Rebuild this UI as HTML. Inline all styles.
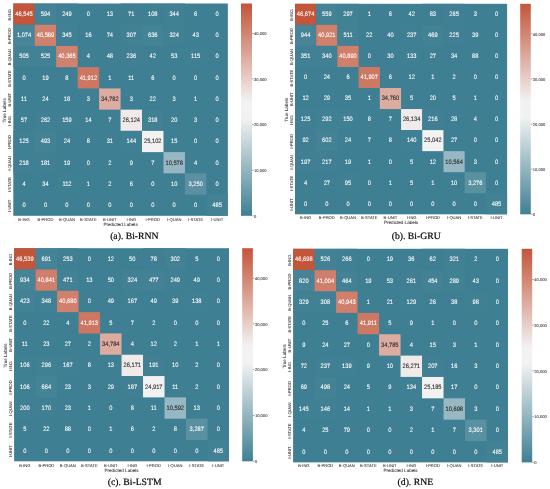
<!DOCTYPE html>
<html lang="en"><head><meta charset="utf-8"><title>Confusion matrices</title>
<style>
html,body{margin:0;padding:0;background:#fff;}
body{width:550px;height:489px;overflow:hidden;}
svg{display:block;font-family:"Liberation Sans",Arial,sans-serif;text-rendering:geometricPrecision;}
svg .cap{font-family:"Liberation Serif","Times New Roman",serif;}
</style></head><body>
<svg width="550" height="489" viewBox="0 0 550 489">
<defs><linearGradient id="cb" x1="0" y1="1" x2="0" y2="0"><stop offset="0" stop-color="#3f7f93"/><stop offset="0.4609" stop-color="#f2f2f2"/><stop offset="0.5391" stop-color="#f2f2f2"/><stop offset="1" stop-color="#c3553a"/></linearGradient></defs>
<rect width="550" height="489" fill="#ffffff"/>
<g class="panel">
<rect x="13.30" y="3.50" width="214.55" height="212.30" fill="#3f7f93"/>
<rect x="13.30" y="3.50" width="21.45" height="21.23" fill="#c3553a"/>
<rect x="34.75" y="3.50" width="21.45" height="21.23" fill="#448296"/>
<rect x="56.21" y="3.50" width="21.45" height="21.23" fill="#418094"/>
<rect x="120.57" y="3.50" width="21.45" height="21.23" fill="#407f93"/>
<rect x="142.03" y="3.50" width="21.45" height="21.23" fill="#408093"/>
<rect x="163.49" y="3.50" width="21.45" height="21.23" fill="#428195"/>
<rect x="13.30" y="24.73" width="21.45" height="21.23" fill="#488598"/>
<rect x="34.75" y="24.73" width="21.45" height="21.23" fill="#d0816d"/>
<rect x="56.21" y="24.73" width="21.45" height="21.23" fill="#428195"/>
<rect x="99.12" y="24.73" width="21.45" height="21.23" fill="#407f93"/>
<rect x="120.57" y="24.73" width="21.45" height="21.23" fill="#428194"/>
<rect x="142.03" y="24.73" width="21.45" height="21.23" fill="#448296"/>
<rect x="163.49" y="24.73" width="21.45" height="21.23" fill="#428194"/>
<rect x="13.30" y="45.96" width="21.45" height="21.23" fill="#438295"/>
<rect x="34.75" y="45.96" width="21.45" height="21.23" fill="#438295"/>
<rect x="56.21" y="45.96" width="21.45" height="21.23" fill="#d1826f"/>
<rect x="120.57" y="45.96" width="21.45" height="21.23" fill="#418094"/>
<rect x="184.94" y="45.96" width="21.45" height="21.23" fill="#408094"/>
<rect x="77.66" y="67.19" width="21.45" height="21.23" fill="#cd7762"/>
<rect x="99.12" y="88.42" width="21.45" height="21.23" fill="#ddab9f"/>
<rect x="34.75" y="109.65" width="21.45" height="21.23" fill="#418094"/>
<rect x="56.21" y="109.65" width="21.45" height="21.23" fill="#408094"/>
<rect x="120.57" y="109.65" width="21.45" height="21.23" fill="#f0eae9"/>
<rect x="142.03" y="109.65" width="21.45" height="21.23" fill="#428194"/>
<rect x="13.30" y="130.88" width="21.45" height="21.23" fill="#408094"/>
<rect x="34.75" y="130.88" width="21.45" height="21.23" fill="#438295"/>
<rect x="120.57" y="130.88" width="21.45" height="21.23" fill="#408094"/>
<rect x="142.03" y="130.88" width="21.45" height="21.23" fill="#f2f2f2"/>
<rect x="13.30" y="152.11" width="21.45" height="21.23" fill="#418094"/>
<rect x="34.75" y="152.11" width="21.45" height="21.23" fill="#418094"/>
<rect x="163.49" y="152.11" width="21.45" height="21.23" fill="#97b8c2"/>
<rect x="56.21" y="173.34" width="21.45" height="21.23" fill="#408093"/>
<rect x="184.94" y="173.34" width="21.45" height="21.23" fill="#5a90a1"/>
<rect x="206.39" y="194.57" width="21.45" height="21.23" fill="#438295"/>
<g class="ann" font-size="5.90" text-anchor="middle" stroke-width="0.08">
<text transform="translate(24.03 15.96) scale(0.970 1.070)" fill="#ffffff" stroke="#ffffff">46,545</text>
<text transform="translate(45.48 15.96) scale(0.970 1.070)" fill="#ffffff" stroke="#ffffff">594</text>
<text transform="translate(66.94 15.96) scale(0.970 1.070)" fill="#ffffff" stroke="#ffffff">249</text>
<text transform="translate(88.39 15.96) scale(0.970 1.070)" fill="#ffffff" stroke="#ffffff">0</text>
<text transform="translate(109.85 15.96) scale(0.970 1.070)" fill="#ffffff" stroke="#ffffff">13</text>
<text transform="translate(131.30 15.96) scale(0.970 1.070)" fill="#ffffff" stroke="#ffffff">71</text>
<text transform="translate(152.76 15.96) scale(0.970 1.070)" fill="#ffffff" stroke="#ffffff">108</text>
<text transform="translate(174.21 15.96) scale(0.970 1.070)" fill="#ffffff" stroke="#ffffff">344</text>
<text transform="translate(195.67 15.96) scale(0.970 1.070)" fill="#ffffff" stroke="#ffffff">6</text>
<text transform="translate(217.12 15.96) scale(0.970 1.070)" fill="#ffffff" stroke="#ffffff">0</text>
<text transform="translate(24.03 37.20) scale(0.970 1.070)" fill="#ffffff" stroke="#ffffff">1,074</text>
<text transform="translate(45.48 37.20) scale(0.970 1.070)" fill="#ffffff" stroke="#ffffff">40,589</text>
<text transform="translate(66.94 37.20) scale(0.970 1.070)" fill="#ffffff" stroke="#ffffff">345</text>
<text transform="translate(88.39 37.20) scale(0.970 1.070)" fill="#ffffff" stroke="#ffffff">16</text>
<text transform="translate(109.85 37.20) scale(0.970 1.070)" fill="#ffffff" stroke="#ffffff">74</text>
<text transform="translate(131.30 37.20) scale(0.970 1.070)" fill="#ffffff" stroke="#ffffff">307</text>
<text transform="translate(152.76 37.20) scale(0.970 1.070)" fill="#ffffff" stroke="#ffffff">636</text>
<text transform="translate(174.21 37.20) scale(0.970 1.070)" fill="#ffffff" stroke="#ffffff">324</text>
<text transform="translate(195.67 37.20) scale(0.970 1.070)" fill="#ffffff" stroke="#ffffff">43</text>
<text transform="translate(217.12 37.20) scale(0.970 1.070)" fill="#ffffff" stroke="#ffffff">0</text>
<text transform="translate(24.03 58.43) scale(0.970 1.070)" fill="#ffffff" stroke="#ffffff">505</text>
<text transform="translate(45.48 58.43) scale(0.970 1.070)" fill="#ffffff" stroke="#ffffff">525</text>
<text transform="translate(66.94 58.43) scale(0.970 1.070)" fill="#ffffff" stroke="#ffffff">40,365</text>
<text transform="translate(88.39 58.43) scale(0.970 1.070)" fill="#ffffff" stroke="#ffffff">4</text>
<text transform="translate(109.85 58.43) scale(0.970 1.070)" fill="#ffffff" stroke="#ffffff">48</text>
<text transform="translate(131.30 58.43) scale(0.970 1.070)" fill="#ffffff" stroke="#ffffff">236</text>
<text transform="translate(152.76 58.43) scale(0.970 1.070)" fill="#ffffff" stroke="#ffffff">42</text>
<text transform="translate(174.21 58.43) scale(0.970 1.070)" fill="#ffffff" stroke="#ffffff">53</text>
<text transform="translate(195.67 58.43) scale(0.970 1.070)" fill="#ffffff" stroke="#ffffff">115</text>
<text transform="translate(217.12 58.43) scale(0.970 1.070)" fill="#ffffff" stroke="#ffffff">0</text>
<text transform="translate(24.03 79.66) scale(0.970 1.070)" fill="#ffffff" stroke="#ffffff">0</text>
<text transform="translate(45.48 79.66) scale(0.970 1.070)" fill="#ffffff" stroke="#ffffff">19</text>
<text transform="translate(66.94 79.66) scale(0.970 1.070)" fill="#ffffff" stroke="#ffffff">8</text>
<text transform="translate(88.39 79.66) scale(0.970 1.070)" fill="#ffffff" stroke="#ffffff">41,912</text>
<text transform="translate(109.85 79.66) scale(0.970 1.070)" fill="#ffffff" stroke="#ffffff">1</text>
<text transform="translate(131.30 79.66) scale(0.970 1.070)" fill="#ffffff" stroke="#ffffff">11</text>
<text transform="translate(152.76 79.66) scale(0.970 1.070)" fill="#ffffff" stroke="#ffffff">6</text>
<text transform="translate(174.21 79.66) scale(0.970 1.070)" fill="#ffffff" stroke="#ffffff">0</text>
<text transform="translate(195.67 79.66) scale(0.970 1.070)" fill="#ffffff" stroke="#ffffff">0</text>
<text transform="translate(217.12 79.66) scale(0.970 1.070)" fill="#ffffff" stroke="#ffffff">0</text>
<text transform="translate(24.03 100.88) scale(0.970 1.070)" fill="#ffffff" stroke="#ffffff">11</text>
<text transform="translate(45.48 100.88) scale(0.970 1.070)" fill="#ffffff" stroke="#ffffff">24</text>
<text transform="translate(66.94 100.88) scale(0.970 1.070)" fill="#ffffff" stroke="#ffffff">18</text>
<text transform="translate(88.39 100.88) scale(0.970 1.070)" fill="#ffffff" stroke="#ffffff">3</text>
<text transform="translate(109.85 100.88) scale(0.970 1.070)" fill="#262626" stroke="#262626">34,782</text>
<text transform="translate(131.30 100.88) scale(0.970 1.070)" fill="#ffffff" stroke="#ffffff">3</text>
<text transform="translate(152.76 100.88) scale(0.970 1.070)" fill="#ffffff" stroke="#ffffff">22</text>
<text transform="translate(174.21 100.88) scale(0.970 1.070)" fill="#ffffff" stroke="#ffffff">3</text>
<text transform="translate(195.67 100.88) scale(0.970 1.070)" fill="#ffffff" stroke="#ffffff">1</text>
<text transform="translate(217.12 100.88) scale(0.970 1.070)" fill="#ffffff" stroke="#ffffff">0</text>
<text transform="translate(24.03 122.11) scale(0.970 1.070)" fill="#ffffff" stroke="#ffffff">57</text>
<text transform="translate(45.48 122.11) scale(0.970 1.070)" fill="#ffffff" stroke="#ffffff">262</text>
<text transform="translate(66.94 122.11) scale(0.970 1.070)" fill="#ffffff" stroke="#ffffff">159</text>
<text transform="translate(88.39 122.11) scale(0.970 1.070)" fill="#ffffff" stroke="#ffffff">14</text>
<text transform="translate(109.85 122.11) scale(0.970 1.070)" fill="#ffffff" stroke="#ffffff">7</text>
<text transform="translate(131.30 122.11) scale(0.970 1.070)" fill="#262626" stroke="#262626">26,124</text>
<text transform="translate(152.76 122.11) scale(0.970 1.070)" fill="#ffffff" stroke="#ffffff">318</text>
<text transform="translate(174.21 122.11) scale(0.970 1.070)" fill="#ffffff" stroke="#ffffff">20</text>
<text transform="translate(195.67 122.11) scale(0.970 1.070)" fill="#ffffff" stroke="#ffffff">3</text>
<text transform="translate(217.12 122.11) scale(0.970 1.070)" fill="#ffffff" stroke="#ffffff">0</text>
<text transform="translate(24.03 143.34) scale(0.970 1.070)" fill="#ffffff" stroke="#ffffff">125</text>
<text transform="translate(45.48 143.34) scale(0.970 1.070)" fill="#ffffff" stroke="#ffffff">493</text>
<text transform="translate(66.94 143.34) scale(0.970 1.070)" fill="#ffffff" stroke="#ffffff">24</text>
<text transform="translate(88.39 143.34) scale(0.970 1.070)" fill="#ffffff" stroke="#ffffff">8</text>
<text transform="translate(109.85 143.34) scale(0.970 1.070)" fill="#ffffff" stroke="#ffffff">31</text>
<text transform="translate(131.30 143.34) scale(0.970 1.070)" fill="#ffffff" stroke="#ffffff">144</text>
<text transform="translate(152.76 143.34) scale(0.970 1.070)" fill="#262626" stroke="#262626">25,102</text>
<text transform="translate(174.21 143.34) scale(0.970 1.070)" fill="#ffffff" stroke="#ffffff">15</text>
<text transform="translate(195.67 143.34) scale(0.970 1.070)" fill="#ffffff" stroke="#ffffff">0</text>
<text transform="translate(217.12 143.34) scale(0.970 1.070)" fill="#ffffff" stroke="#ffffff">0</text>
<text transform="translate(24.03 164.57) scale(0.970 1.070)" fill="#ffffff" stroke="#ffffff">218</text>
<text transform="translate(45.48 164.57) scale(0.970 1.070)" fill="#ffffff" stroke="#ffffff">181</text>
<text transform="translate(66.94 164.57) scale(0.970 1.070)" fill="#ffffff" stroke="#ffffff">19</text>
<text transform="translate(88.39 164.57) scale(0.970 1.070)" fill="#ffffff" stroke="#ffffff">0</text>
<text transform="translate(109.85 164.57) scale(0.970 1.070)" fill="#ffffff" stroke="#ffffff">2</text>
<text transform="translate(131.30 164.57) scale(0.970 1.070)" fill="#ffffff" stroke="#ffffff">9</text>
<text transform="translate(152.76 164.57) scale(0.970 1.070)" fill="#ffffff" stroke="#ffffff">7</text>
<text transform="translate(174.21 164.57) scale(0.970 1.070)" fill="#262626" stroke="#262626">10,578</text>
<text transform="translate(195.67 164.57) scale(0.970 1.070)" fill="#ffffff" stroke="#ffffff">4</text>
<text transform="translate(217.12 164.57) scale(0.970 1.070)" fill="#ffffff" stroke="#ffffff">0</text>
<text transform="translate(24.03 185.81) scale(0.970 1.070)" fill="#ffffff" stroke="#ffffff">4</text>
<text transform="translate(45.48 185.81) scale(0.970 1.070)" fill="#ffffff" stroke="#ffffff">34</text>
<text transform="translate(66.94 185.81) scale(0.970 1.070)" fill="#ffffff" stroke="#ffffff">112</text>
<text transform="translate(88.39 185.81) scale(0.970 1.070)" fill="#ffffff" stroke="#ffffff">1</text>
<text transform="translate(109.85 185.81) scale(0.970 1.070)" fill="#ffffff" stroke="#ffffff">2</text>
<text transform="translate(131.30 185.81) scale(0.970 1.070)" fill="#ffffff" stroke="#ffffff">6</text>
<text transform="translate(152.76 185.81) scale(0.970 1.070)" fill="#ffffff" stroke="#ffffff">0</text>
<text transform="translate(174.21 185.81) scale(0.970 1.070)" fill="#ffffff" stroke="#ffffff">10</text>
<text transform="translate(195.67 185.81) scale(0.970 1.070)" fill="#ffffff" stroke="#ffffff">3,250</text>
<text transform="translate(217.12 185.81) scale(0.970 1.070)" fill="#ffffff" stroke="#ffffff">0</text>
<text transform="translate(24.03 207.03) scale(0.970 1.070)" fill="#ffffff" stroke="#ffffff">0</text>
<text transform="translate(45.48 207.03) scale(0.970 1.070)" fill="#ffffff" stroke="#ffffff">0</text>
<text transform="translate(66.94 207.03) scale(0.970 1.070)" fill="#ffffff" stroke="#ffffff">0</text>
<text transform="translate(88.39 207.03) scale(0.970 1.070)" fill="#ffffff" stroke="#ffffff">0</text>
<text transform="translate(109.85 207.03) scale(0.970 1.070)" fill="#ffffff" stroke="#ffffff">0</text>
<text transform="translate(131.30 207.03) scale(0.970 1.070)" fill="#ffffff" stroke="#ffffff">0</text>
<text transform="translate(152.76 207.03) scale(0.970 1.070)" fill="#ffffff" stroke="#ffffff">0</text>
<text transform="translate(174.21 207.03) scale(0.970 1.070)" fill="#ffffff" stroke="#ffffff">0</text>
<text transform="translate(195.67 207.03) scale(0.970 1.070)" fill="#ffffff" stroke="#ffffff">0</text>
<text transform="translate(217.12 207.03) scale(0.970 1.070)" fill="#ffffff" stroke="#ffffff">485</text>
</g>
<g class="tick" font-size="4.10" text-anchor="middle" fill="#262626" stroke="#262626" stroke-width="0.04">
<text x="24.03" y="221.00">B-ING</text>
<text x="45.48" y="221.00">B-PROD</text>
<text x="66.94" y="221.00">B-QUAN</text>
<text x="88.39" y="221.00">B-STATE</text>
<text x="109.85" y="221.00">B-UNIT</text>
<text x="131.30" y="221.00">I-ING</text>
<text x="152.76" y="221.00">I-PROD</text>
<text x="174.21" y="221.00">I-QUAN</text>
<text x="195.67" y="221.00">I-STATE</text>
<text x="217.12" y="221.00">I-UNIT</text>
<text transform="translate(10.80 14.81) rotate(-90)">B-ING</text>
<text transform="translate(10.80 36.05) rotate(-90)">B-PROD</text>
<text transform="translate(10.80 57.28) rotate(-90)">B-QUAN</text>
<text transform="translate(10.80 78.51) rotate(-90)">B-STATE</text>
<text transform="translate(10.80 99.73) rotate(-90)">B-UNIT</text>
<text transform="translate(10.80 120.97) rotate(-90)">I-ING</text>
<text transform="translate(10.80 142.19) rotate(-90)">I-PROD</text>
<text transform="translate(10.80 163.42) rotate(-90)">I-QUAN</text>
<text transform="translate(10.80 184.66) rotate(-90)">I-STATE</text>
<text transform="translate(10.80 205.88) rotate(-90)">I-UNIT</text>
</g>
<g class="axl" font-size="4.60" text-anchor="middle" fill="#262626" stroke="#262626" stroke-width="0.04">
<text x="120.58" y="226.00">Predicted Labels</text>
<text transform="translate(5.90 110.35) rotate(-90)">True Labels</text>
</g>
<rect x="241.00" y="3.50" width="11.00" height="212.30" fill="url(#cb)"/>
<g class="cbt" font-size="4.10" fill="#262626" stroke="#262626" stroke-width="0.04">
<line x1="252.00" x2="253.70" y1="215.80" y2="215.80" stroke-width="0.4"/>
<text x="254.00" y="217.57">0</text>
<line x1="252.00" x2="253.70" y1="170.19" y2="170.19" stroke-width="0.4"/>
<text x="254.00" y="171.96">10,000</text>
<line x1="252.00" x2="253.70" y1="124.58" y2="124.58" stroke-width="0.4"/>
<text x="254.00" y="126.34">20,000</text>
<line x1="252.00" x2="253.70" y1="78.96" y2="78.96" stroke-width="0.4"/>
<text x="254.00" y="80.73">30,000</text>
<line x1="252.00" x2="253.70" y1="33.35" y2="33.35" stroke-width="0.4"/>
<text x="254.00" y="35.12">40,000</text>
</g>
<text class="cap" x="134.35" y="239.00" font-size="9.70" text-anchor="middle" fill="#000" stroke="#000" stroke-width="0.2">(a). Bi-RNN</text>
</g>
<g class="panel">
<rect x="295.00" y="3.80" width="212.10" height="210.50" fill="#3f7f93"/>
<rect x="295.00" y="3.80" width="21.21" height="21.05" fill="#c3553a"/>
<rect x="316.21" y="3.80" width="21.21" height="21.05" fill="#448295"/>
<rect x="337.42" y="3.80" width="21.21" height="21.05" fill="#418194"/>
<rect x="422.26" y="3.80" width="21.21" height="21.05" fill="#407f93"/>
<rect x="443.47" y="3.80" width="21.21" height="21.05" fill="#418094"/>
<rect x="295.00" y="24.85" width="21.21" height="21.05" fill="#478497"/>
<rect x="316.21" y="24.85" width="21.21" height="21.05" fill="#d07f6b"/>
<rect x="337.42" y="24.85" width="21.21" height="21.05" fill="#438295"/>
<rect x="401.05" y="24.85" width="21.21" height="21.05" fill="#418094"/>
<rect x="422.26" y="24.85" width="21.21" height="21.05" fill="#438295"/>
<rect x="443.47" y="24.85" width="21.21" height="21.05" fill="#418094"/>
<rect x="295.00" y="45.90" width="21.21" height="21.05" fill="#428195"/>
<rect x="316.21" y="45.90" width="21.21" height="21.05" fill="#428195"/>
<rect x="337.42" y="45.90" width="21.21" height="21.05" fill="#d07f6b"/>
<rect x="401.05" y="45.90" width="21.21" height="21.05" fill="#408094"/>
<rect x="464.68" y="45.90" width="21.21" height="21.05" fill="#407f93"/>
<rect x="358.63" y="66.95" width="21.21" height="21.05" fill="#cd7863"/>
<rect x="379.84" y="88.00" width="21.21" height="21.05" fill="#ddaca0"/>
<rect x="295.00" y="109.05" width="21.21" height="21.05" fill="#408094"/>
<rect x="316.21" y="109.05" width="21.21" height="21.05" fill="#418194"/>
<rect x="337.42" y="109.05" width="21.21" height="21.05" fill="#408094"/>
<rect x="401.05" y="109.05" width="21.21" height="21.05" fill="#f0ebea"/>
<rect x="422.26" y="109.05" width="21.21" height="21.05" fill="#418094"/>
<rect x="295.00" y="130.10" width="21.21" height="21.05" fill="#407f93"/>
<rect x="316.21" y="130.10" width="21.21" height="21.05" fill="#448296"/>
<rect x="401.05" y="130.10" width="21.21" height="21.05" fill="#408094"/>
<rect x="422.26" y="130.10" width="21.21" height="21.05" fill="#f2f2f2"/>
<rect x="295.00" y="151.15" width="21.21" height="21.05" fill="#418094"/>
<rect x="316.21" y="151.15" width="21.21" height="21.05" fill="#418094"/>
<rect x="443.47" y="151.15" width="21.21" height="21.05" fill="#97b7c2"/>
<rect x="337.42" y="172.20" width="21.21" height="21.05" fill="#408093"/>
<rect x="464.68" y="172.20" width="21.21" height="21.05" fill="#5a91a1"/>
<rect x="485.89" y="193.25" width="21.21" height="21.05" fill="#438295"/>
<g class="ann" font-size="5.90" text-anchor="middle" stroke-width="0.08">
<text transform="translate(305.61 16.18) scale(0.970 1.070)" fill="#ffffff" stroke="#ffffff">46,674</text>
<text transform="translate(326.81 16.18) scale(0.970 1.070)" fill="#ffffff" stroke="#ffffff">559</text>
<text transform="translate(348.02 16.18) scale(0.970 1.070)" fill="#ffffff" stroke="#ffffff">297</text>
<text transform="translate(369.24 16.18) scale(0.970 1.070)" fill="#ffffff" stroke="#ffffff">1</text>
<text transform="translate(390.44 16.18) scale(0.970 1.070)" fill="#ffffff" stroke="#ffffff">6</text>
<text transform="translate(411.65 16.18) scale(0.970 1.070)" fill="#ffffff" stroke="#ffffff">42</text>
<text transform="translate(432.87 16.18) scale(0.970 1.070)" fill="#ffffff" stroke="#ffffff">83</text>
<text transform="translate(454.08 16.18) scale(0.970 1.070)" fill="#ffffff" stroke="#ffffff">265</text>
<text transform="translate(475.28 16.18) scale(0.970 1.070)" fill="#ffffff" stroke="#ffffff">3</text>
<text transform="translate(496.50 16.18) scale(0.970 1.070)" fill="#ffffff" stroke="#ffffff">0</text>
<text transform="translate(305.61 37.23) scale(0.970 1.070)" fill="#ffffff" stroke="#ffffff">944</text>
<text transform="translate(326.81 37.23) scale(0.970 1.070)" fill="#ffffff" stroke="#ffffff">40,921</text>
<text transform="translate(348.02 37.23) scale(0.970 1.070)" fill="#ffffff" stroke="#ffffff">511</text>
<text transform="translate(369.24 37.23) scale(0.970 1.070)" fill="#ffffff" stroke="#ffffff">22</text>
<text transform="translate(390.44 37.23) scale(0.970 1.070)" fill="#ffffff" stroke="#ffffff">40</text>
<text transform="translate(411.65 37.23) scale(0.970 1.070)" fill="#ffffff" stroke="#ffffff">237</text>
<text transform="translate(432.87 37.23) scale(0.970 1.070)" fill="#ffffff" stroke="#ffffff">469</text>
<text transform="translate(454.08 37.23) scale(0.970 1.070)" fill="#ffffff" stroke="#ffffff">225</text>
<text transform="translate(475.28 37.23) scale(0.970 1.070)" fill="#ffffff" stroke="#ffffff">39</text>
<text transform="translate(496.50 37.23) scale(0.970 1.070)" fill="#ffffff" stroke="#ffffff">0</text>
<text transform="translate(305.61 58.27) scale(0.970 1.070)" fill="#ffffff" stroke="#ffffff">351</text>
<text transform="translate(326.81 58.27) scale(0.970 1.070)" fill="#ffffff" stroke="#ffffff">340</text>
<text transform="translate(348.02 58.27) scale(0.970 1.070)" fill="#ffffff" stroke="#ffffff">40,890</text>
<text transform="translate(369.24 58.27) scale(0.970 1.070)" fill="#ffffff" stroke="#ffffff">0</text>
<text transform="translate(390.44 58.27) scale(0.970 1.070)" fill="#ffffff" stroke="#ffffff">30</text>
<text transform="translate(411.65 58.27) scale(0.970 1.070)" fill="#ffffff" stroke="#ffffff">133</text>
<text transform="translate(432.87 58.27) scale(0.970 1.070)" fill="#ffffff" stroke="#ffffff">27</text>
<text transform="translate(454.08 58.27) scale(0.970 1.070)" fill="#ffffff" stroke="#ffffff">34</text>
<text transform="translate(475.28 58.27) scale(0.970 1.070)" fill="#ffffff" stroke="#ffffff">88</text>
<text transform="translate(496.50 58.27) scale(0.970 1.070)" fill="#ffffff" stroke="#ffffff">0</text>
<text transform="translate(305.61 79.32) scale(0.970 1.070)" fill="#ffffff" stroke="#ffffff">0</text>
<text transform="translate(326.81 79.32) scale(0.970 1.070)" fill="#ffffff" stroke="#ffffff">24</text>
<text transform="translate(348.02 79.32) scale(0.970 1.070)" fill="#ffffff" stroke="#ffffff">6</text>
<text transform="translate(369.24 79.32) scale(0.970 1.070)" fill="#ffffff" stroke="#ffffff">41,907</text>
<text transform="translate(390.44 79.32) scale(0.970 1.070)" fill="#ffffff" stroke="#ffffff">6</text>
<text transform="translate(411.65 79.32) scale(0.970 1.070)" fill="#ffffff" stroke="#ffffff">12</text>
<text transform="translate(432.87 79.32) scale(0.970 1.070)" fill="#ffffff" stroke="#ffffff">1</text>
<text transform="translate(454.08 79.32) scale(0.970 1.070)" fill="#ffffff" stroke="#ffffff">2</text>
<text transform="translate(475.28 79.32) scale(0.970 1.070)" fill="#ffffff" stroke="#ffffff">0</text>
<text transform="translate(496.50 79.32) scale(0.970 1.070)" fill="#ffffff" stroke="#ffffff">0</text>
<text transform="translate(305.61 100.38) scale(0.970 1.070)" fill="#ffffff" stroke="#ffffff">12</text>
<text transform="translate(326.81 100.38) scale(0.970 1.070)" fill="#ffffff" stroke="#ffffff">29</text>
<text transform="translate(348.02 100.38) scale(0.970 1.070)" fill="#ffffff" stroke="#ffffff">35</text>
<text transform="translate(369.24 100.38) scale(0.970 1.070)" fill="#ffffff" stroke="#ffffff">1</text>
<text transform="translate(390.44 100.38) scale(0.970 1.070)" fill="#262626" stroke="#262626">34,760</text>
<text transform="translate(411.65 100.38) scale(0.970 1.070)" fill="#ffffff" stroke="#ffffff">5</text>
<text transform="translate(432.87 100.38) scale(0.970 1.070)" fill="#ffffff" stroke="#ffffff">20</text>
<text transform="translate(454.08 100.38) scale(0.970 1.070)" fill="#ffffff" stroke="#ffffff">5</text>
<text transform="translate(475.28 100.38) scale(0.970 1.070)" fill="#ffffff" stroke="#ffffff">1</text>
<text transform="translate(496.50 100.38) scale(0.970 1.070)" fill="#ffffff" stroke="#ffffff">0</text>
<text transform="translate(305.61 121.42) scale(0.970 1.070)" fill="#ffffff" stroke="#ffffff">125</text>
<text transform="translate(326.81 121.42) scale(0.970 1.070)" fill="#ffffff" stroke="#ffffff">292</text>
<text transform="translate(348.02 121.42) scale(0.970 1.070)" fill="#ffffff" stroke="#ffffff">150</text>
<text transform="translate(369.24 121.42) scale(0.970 1.070)" fill="#ffffff" stroke="#ffffff">8</text>
<text transform="translate(390.44 121.42) scale(0.970 1.070)" fill="#ffffff" stroke="#ffffff">7</text>
<text transform="translate(411.65 121.42) scale(0.970 1.070)" fill="#262626" stroke="#262626">26,134</text>
<text transform="translate(432.87 121.42) scale(0.970 1.070)" fill="#ffffff" stroke="#ffffff">216</text>
<text transform="translate(454.08 121.42) scale(0.970 1.070)" fill="#ffffff" stroke="#ffffff">28</text>
<text transform="translate(475.28 121.42) scale(0.970 1.070)" fill="#ffffff" stroke="#ffffff">4</text>
<text transform="translate(496.50 121.42) scale(0.970 1.070)" fill="#ffffff" stroke="#ffffff">0</text>
<text transform="translate(305.61 142.48) scale(0.970 1.070)" fill="#ffffff" stroke="#ffffff">92</text>
<text transform="translate(326.81 142.48) scale(0.970 1.070)" fill="#ffffff" stroke="#ffffff">602</text>
<text transform="translate(348.02 142.48) scale(0.970 1.070)" fill="#ffffff" stroke="#ffffff">24</text>
<text transform="translate(369.24 142.48) scale(0.970 1.070)" fill="#ffffff" stroke="#ffffff">7</text>
<text transform="translate(390.44 142.48) scale(0.970 1.070)" fill="#ffffff" stroke="#ffffff">8</text>
<text transform="translate(411.65 142.48) scale(0.970 1.070)" fill="#ffffff" stroke="#ffffff">140</text>
<text transform="translate(432.87 142.48) scale(0.970 1.070)" fill="#262626" stroke="#262626">25,042</text>
<text transform="translate(454.08 142.48) scale(0.970 1.070)" fill="#ffffff" stroke="#ffffff">27</text>
<text transform="translate(475.28 142.48) scale(0.970 1.070)" fill="#ffffff" stroke="#ffffff">0</text>
<text transform="translate(496.50 142.48) scale(0.970 1.070)" fill="#ffffff" stroke="#ffffff">0</text>
<text transform="translate(305.61 163.53) scale(0.970 1.070)" fill="#ffffff" stroke="#ffffff">197</text>
<text transform="translate(326.81 163.53) scale(0.970 1.070)" fill="#ffffff" stroke="#ffffff">217</text>
<text transform="translate(348.02 163.53) scale(0.970 1.070)" fill="#ffffff" stroke="#ffffff">19</text>
<text transform="translate(369.24 163.53) scale(0.970 1.070)" fill="#ffffff" stroke="#ffffff">1</text>
<text transform="translate(390.44 163.53) scale(0.970 1.070)" fill="#ffffff" stroke="#ffffff">0</text>
<text transform="translate(411.65 163.53) scale(0.970 1.070)" fill="#ffffff" stroke="#ffffff">5</text>
<text transform="translate(432.87 163.53) scale(0.970 1.070)" fill="#ffffff" stroke="#ffffff">12</text>
<text transform="translate(454.08 163.53) scale(0.970 1.070)" fill="#262626" stroke="#262626">10,564</text>
<text transform="translate(475.28 163.53) scale(0.970 1.070)" fill="#ffffff" stroke="#ffffff">3</text>
<text transform="translate(496.50 163.53) scale(0.970 1.070)" fill="#ffffff" stroke="#ffffff">0</text>
<text transform="translate(305.61 184.58) scale(0.970 1.070)" fill="#ffffff" stroke="#ffffff">4</text>
<text transform="translate(326.81 184.58) scale(0.970 1.070)" fill="#ffffff" stroke="#ffffff">27</text>
<text transform="translate(348.02 184.58) scale(0.970 1.070)" fill="#ffffff" stroke="#ffffff">95</text>
<text transform="translate(369.24 184.58) scale(0.970 1.070)" fill="#ffffff" stroke="#ffffff">0</text>
<text transform="translate(390.44 184.58) scale(0.970 1.070)" fill="#ffffff" stroke="#ffffff">1</text>
<text transform="translate(411.65 184.58) scale(0.970 1.070)" fill="#ffffff" stroke="#ffffff">5</text>
<text transform="translate(432.87 184.58) scale(0.970 1.070)" fill="#ffffff" stroke="#ffffff">1</text>
<text transform="translate(454.08 184.58) scale(0.970 1.070)" fill="#ffffff" stroke="#ffffff">10</text>
<text transform="translate(475.28 184.58) scale(0.970 1.070)" fill="#ffffff" stroke="#ffffff">3,276</text>
<text transform="translate(496.50 184.58) scale(0.970 1.070)" fill="#ffffff" stroke="#ffffff">0</text>
<text transform="translate(305.61 205.62) scale(0.970 1.070)" fill="#ffffff" stroke="#ffffff">0</text>
<text transform="translate(326.81 205.62) scale(0.970 1.070)" fill="#ffffff" stroke="#ffffff">0</text>
<text transform="translate(348.02 205.62) scale(0.970 1.070)" fill="#ffffff" stroke="#ffffff">0</text>
<text transform="translate(369.24 205.62) scale(0.970 1.070)" fill="#ffffff" stroke="#ffffff">0</text>
<text transform="translate(390.44 205.62) scale(0.970 1.070)" fill="#ffffff" stroke="#ffffff">0</text>
<text transform="translate(411.65 205.62) scale(0.970 1.070)" fill="#ffffff" stroke="#ffffff">0</text>
<text transform="translate(432.87 205.62) scale(0.970 1.070)" fill="#ffffff" stroke="#ffffff">0</text>
<text transform="translate(454.08 205.62) scale(0.970 1.070)" fill="#ffffff" stroke="#ffffff">0</text>
<text transform="translate(475.28 205.62) scale(0.970 1.070)" fill="#ffffff" stroke="#ffffff">0</text>
<text transform="translate(496.50 205.62) scale(0.970 1.070)" fill="#ffffff" stroke="#ffffff">485</text>
</g>
<g class="tick" font-size="4.10" text-anchor="middle" fill="#262626" stroke="#262626" stroke-width="0.04">
<text x="305.61" y="219.00">B-ING</text>
<text x="326.81" y="219.00">B-PROD</text>
<text x="348.02" y="219.00">B-QUAN</text>
<text x="369.24" y="219.00">B-STATE</text>
<text x="390.44" y="219.00">B-UNIT</text>
<text x="411.65" y="219.00">I-ING</text>
<text x="432.87" y="219.00">I-PROD</text>
<text x="454.08" y="219.00">I-QUAN</text>
<text x="475.28" y="219.00">I-STATE</text>
<text x="496.50" y="219.00">I-UNIT</text>
<text transform="translate(292.50 15.02) rotate(-90)">B-ING</text>
<text transform="translate(292.50 36.08) rotate(-90)">B-PROD</text>
<text transform="translate(292.50 57.12) rotate(-90)">B-QUAN</text>
<text transform="translate(292.50 78.17) rotate(-90)">B-STATE</text>
<text transform="translate(292.50 99.23) rotate(-90)">B-UNIT</text>
<text transform="translate(292.50 120.28) rotate(-90)">I-ING</text>
<text transform="translate(292.50 141.33) rotate(-90)">I-PROD</text>
<text transform="translate(292.50 162.38) rotate(-90)">I-QUAN</text>
<text transform="translate(292.50 183.43) rotate(-90)">I-STATE</text>
<text transform="translate(292.50 204.47) rotate(-90)">I-UNIT</text>
</g>
<g class="axl" font-size="4.60" text-anchor="middle" fill="#262626" stroke="#262626" stroke-width="0.04">
<text x="401.05" y="224.00">Predicted Labels</text>
<text transform="translate(287.60 109.75) rotate(-90)">True Labels</text>
</g>
<rect x="520.20" y="3.80" width="10.60" height="210.50" fill="url(#cb)"/>
<g class="cbt" font-size="4.10" fill="#262626" stroke="#262626" stroke-width="0.04">
<line x1="530.80" x2="532.50" y1="214.30" y2="214.30" stroke-width="0.4"/>
<text x="532.80" y="216.07">0</text>
<line x1="530.80" x2="532.50" y1="169.20" y2="169.20" stroke-width="0.4"/>
<text x="532.80" y="170.97">10,000</text>
<line x1="530.80" x2="532.50" y1="124.10" y2="124.10" stroke-width="0.4"/>
<text x="532.80" y="125.87">20,000</text>
<line x1="530.80" x2="532.50" y1="79.00" y2="79.00" stroke-width="0.4"/>
<text x="532.80" y="80.77">30,000</text>
<line x1="530.80" x2="532.50" y1="33.90" y2="33.90" stroke-width="0.4"/>
<text x="532.80" y="35.67">40,000</text>
</g>
<text class="cap" x="416.20" y="239.00" font-size="9.70" text-anchor="middle" fill="#000" stroke="#000" stroke-width="0.2">(b). Bi-GRU</text>
</g>
<g class="panel">
<rect x="14.10" y="248.20" width="214.90" height="213.10" fill="#3f7f93"/>
<rect x="14.10" y="248.20" width="21.49" height="21.31" fill="#c3553a"/>
<rect x="35.59" y="248.20" width="21.49" height="21.31" fill="#458396"/>
<rect x="57.08" y="248.20" width="21.49" height="21.31" fill="#418094"/>
<rect x="143.04" y="248.20" width="21.49" height="21.31" fill="#407f93"/>
<rect x="164.53" y="248.20" width="21.49" height="21.31" fill="#428194"/>
<rect x="14.10" y="269.51" width="21.49" height="21.31" fill="#478497"/>
<rect x="35.59" y="269.51" width="21.49" height="21.31" fill="#cf7f6b"/>
<rect x="57.08" y="269.51" width="21.49" height="21.31" fill="#438295"/>
<rect x="121.55" y="269.51" width="21.49" height="21.31" fill="#428194"/>
<rect x="143.04" y="269.51" width="21.49" height="21.31" fill="#438295"/>
<rect x="164.53" y="269.51" width="21.49" height="21.31" fill="#418094"/>
<rect x="14.10" y="290.82" width="21.49" height="21.31" fill="#438195"/>
<rect x="35.59" y="290.82" width="21.49" height="21.31" fill="#428195"/>
<rect x="57.08" y="290.82" width="21.49" height="21.31" fill="#d0806c"/>
<rect x="121.55" y="290.82" width="21.49" height="21.31" fill="#408094"/>
<rect x="186.02" y="290.82" width="21.49" height="21.31" fill="#408094"/>
<rect x="78.57" y="312.13" width="21.49" height="21.31" fill="#cd7762"/>
<rect x="100.06" y="333.44" width="21.49" height="21.31" fill="#ddab9f"/>
<rect x="14.10" y="354.75" width="21.49" height="21.31" fill="#408093"/>
<rect x="35.59" y="354.75" width="21.49" height="21.31" fill="#418194"/>
<rect x="57.08" y="354.75" width="21.49" height="21.31" fill="#408094"/>
<rect x="121.55" y="354.75" width="21.49" height="21.31" fill="#f0eae9"/>
<rect x="143.04" y="354.75" width="21.49" height="21.31" fill="#418094"/>
<rect x="14.10" y="376.06" width="21.49" height="21.31" fill="#408093"/>
<rect x="35.59" y="376.06" width="21.49" height="21.31" fill="#458396"/>
<rect x="121.55" y="376.06" width="21.49" height="21.31" fill="#418094"/>
<rect x="143.04" y="376.06" width="21.49" height="21.31" fill="#f2f2f2"/>
<rect x="14.10" y="397.37" width="21.49" height="21.31" fill="#418094"/>
<rect x="35.59" y="397.37" width="21.49" height="21.31" fill="#408094"/>
<rect x="164.53" y="397.37" width="21.49" height="21.31" fill="#97b8c2"/>
<rect x="57.08" y="418.68" width="21.49" height="21.31" fill="#407f93"/>
<rect x="186.02" y="418.68" width="21.49" height="21.31" fill="#5a91a2"/>
<rect x="207.51" y="439.99" width="21.49" height="21.31" fill="#438295"/>
<g class="ann" font-size="5.90" text-anchor="middle" stroke-width="0.08">
<text transform="translate(24.84 260.71) scale(0.970 1.070)" fill="#ffffff" stroke="#ffffff">46,539</text>
<text transform="translate(46.34 260.71) scale(0.970 1.070)" fill="#ffffff" stroke="#ffffff">691</text>
<text transform="translate(67.83 260.71) scale(0.970 1.070)" fill="#ffffff" stroke="#ffffff">253</text>
<text transform="translate(89.31 260.71) scale(0.970 1.070)" fill="#ffffff" stroke="#ffffff">0</text>
<text transform="translate(110.81 260.71) scale(0.970 1.070)" fill="#ffffff" stroke="#ffffff">12</text>
<text transform="translate(132.30 260.71) scale(0.970 1.070)" fill="#ffffff" stroke="#ffffff">50</text>
<text transform="translate(153.78 260.71) scale(0.970 1.070)" fill="#ffffff" stroke="#ffffff">78</text>
<text transform="translate(175.28 260.71) scale(0.970 1.070)" fill="#ffffff" stroke="#ffffff">302</text>
<text transform="translate(196.77 260.71) scale(0.970 1.070)" fill="#ffffff" stroke="#ffffff">5</text>
<text transform="translate(218.26 260.71) scale(0.970 1.070)" fill="#ffffff" stroke="#ffffff">0</text>
<text transform="translate(24.84 282.01) scale(0.970 1.070)" fill="#ffffff" stroke="#ffffff">934</text>
<text transform="translate(46.34 282.01) scale(0.970 1.070)" fill="#ffffff" stroke="#ffffff">40,841</text>
<text transform="translate(67.83 282.01) scale(0.970 1.070)" fill="#ffffff" stroke="#ffffff">471</text>
<text transform="translate(89.31 282.01) scale(0.970 1.070)" fill="#ffffff" stroke="#ffffff">13</text>
<text transform="translate(110.81 282.01) scale(0.970 1.070)" fill="#ffffff" stroke="#ffffff">50</text>
<text transform="translate(132.30 282.01) scale(0.970 1.070)" fill="#ffffff" stroke="#ffffff">324</text>
<text transform="translate(153.78 282.01) scale(0.970 1.070)" fill="#ffffff" stroke="#ffffff">477</text>
<text transform="translate(175.28 282.01) scale(0.970 1.070)" fill="#ffffff" stroke="#ffffff">249</text>
<text transform="translate(196.77 282.01) scale(0.970 1.070)" fill="#ffffff" stroke="#ffffff">49</text>
<text transform="translate(218.26 282.01) scale(0.970 1.070)" fill="#ffffff" stroke="#ffffff">0</text>
<text transform="translate(24.84 303.33) scale(0.970 1.070)" fill="#ffffff" stroke="#ffffff">423</text>
<text transform="translate(46.34 303.33) scale(0.970 1.070)" fill="#ffffff" stroke="#ffffff">348</text>
<text transform="translate(67.83 303.33) scale(0.970 1.070)" fill="#ffffff" stroke="#ffffff">40,680</text>
<text transform="translate(89.31 303.33) scale(0.970 1.070)" fill="#ffffff" stroke="#ffffff">0</text>
<text transform="translate(110.81 303.33) scale(0.970 1.070)" fill="#ffffff" stroke="#ffffff">49</text>
<text transform="translate(132.30 303.33) scale(0.970 1.070)" fill="#ffffff" stroke="#ffffff">167</text>
<text transform="translate(153.78 303.33) scale(0.970 1.070)" fill="#ffffff" stroke="#ffffff">49</text>
<text transform="translate(175.28 303.33) scale(0.970 1.070)" fill="#ffffff" stroke="#ffffff">39</text>
<text transform="translate(196.77 303.33) scale(0.970 1.070)" fill="#ffffff" stroke="#ffffff">138</text>
<text transform="translate(218.26 303.33) scale(0.970 1.070)" fill="#ffffff" stroke="#ffffff">0</text>
<text transform="translate(24.84 324.63) scale(0.970 1.070)" fill="#ffffff" stroke="#ffffff">0</text>
<text transform="translate(46.34 324.63) scale(0.970 1.070)" fill="#ffffff" stroke="#ffffff">22</text>
<text transform="translate(67.83 324.63) scale(0.970 1.070)" fill="#ffffff" stroke="#ffffff">4</text>
<text transform="translate(89.31 324.63) scale(0.970 1.070)" fill="#ffffff" stroke="#ffffff">41,913</text>
<text transform="translate(110.81 324.63) scale(0.970 1.070)" fill="#ffffff" stroke="#ffffff">5</text>
<text transform="translate(132.30 324.63) scale(0.970 1.070)" fill="#ffffff" stroke="#ffffff">7</text>
<text transform="translate(153.78 324.63) scale(0.970 1.070)" fill="#ffffff" stroke="#ffffff">2</text>
<text transform="translate(175.28 324.63) scale(0.970 1.070)" fill="#ffffff" stroke="#ffffff">0</text>
<text transform="translate(196.77 324.63) scale(0.970 1.070)" fill="#ffffff" stroke="#ffffff">0</text>
<text transform="translate(218.26 324.63) scale(0.970 1.070)" fill="#ffffff" stroke="#ffffff">0</text>
<text transform="translate(24.84 345.95) scale(0.970 1.070)" fill="#ffffff" stroke="#ffffff">11</text>
<text transform="translate(46.34 345.95) scale(0.970 1.070)" fill="#ffffff" stroke="#ffffff">23</text>
<text transform="translate(67.83 345.95) scale(0.970 1.070)" fill="#ffffff" stroke="#ffffff">27</text>
<text transform="translate(89.31 345.95) scale(0.970 1.070)" fill="#ffffff" stroke="#ffffff">2</text>
<text transform="translate(110.81 345.95) scale(0.970 1.070)" fill="#262626" stroke="#262626">34,784</text>
<text transform="translate(132.30 345.95) scale(0.970 1.070)" fill="#ffffff" stroke="#ffffff">4</text>
<text transform="translate(153.78 345.95) scale(0.970 1.070)" fill="#ffffff" stroke="#ffffff">12</text>
<text transform="translate(175.28 345.95) scale(0.970 1.070)" fill="#ffffff" stroke="#ffffff">2</text>
<text transform="translate(196.77 345.95) scale(0.970 1.070)" fill="#ffffff" stroke="#ffffff">1</text>
<text transform="translate(218.26 345.95) scale(0.970 1.070)" fill="#ffffff" stroke="#ffffff">1</text>
<text transform="translate(24.84 367.25) scale(0.970 1.070)" fill="#ffffff" stroke="#ffffff">106</text>
<text transform="translate(46.34 367.25) scale(0.970 1.070)" fill="#ffffff" stroke="#ffffff">296</text>
<text transform="translate(67.83 367.25) scale(0.970 1.070)" fill="#ffffff" stroke="#ffffff">167</text>
<text transform="translate(89.31 367.25) scale(0.970 1.070)" fill="#ffffff" stroke="#ffffff">8</text>
<text transform="translate(110.81 367.25) scale(0.970 1.070)" fill="#ffffff" stroke="#ffffff">13</text>
<text transform="translate(132.30 367.25) scale(0.970 1.070)" fill="#262626" stroke="#262626">26,171</text>
<text transform="translate(153.78 367.25) scale(0.970 1.070)" fill="#ffffff" stroke="#ffffff">191</text>
<text transform="translate(175.28 367.25) scale(0.970 1.070)" fill="#ffffff" stroke="#ffffff">10</text>
<text transform="translate(196.77 367.25) scale(0.970 1.070)" fill="#ffffff" stroke="#ffffff">2</text>
<text transform="translate(218.26 367.25) scale(0.970 1.070)" fill="#ffffff" stroke="#ffffff">0</text>
<text transform="translate(24.84 388.57) scale(0.970 1.070)" fill="#ffffff" stroke="#ffffff">106</text>
<text transform="translate(46.34 388.57) scale(0.970 1.070)" fill="#ffffff" stroke="#ffffff">664</text>
<text transform="translate(67.83 388.57) scale(0.970 1.070)" fill="#ffffff" stroke="#ffffff">23</text>
<text transform="translate(89.31 388.57) scale(0.970 1.070)" fill="#ffffff" stroke="#ffffff">3</text>
<text transform="translate(110.81 388.57) scale(0.970 1.070)" fill="#ffffff" stroke="#ffffff">29</text>
<text transform="translate(132.30 388.57) scale(0.970 1.070)" fill="#ffffff" stroke="#ffffff">187</text>
<text transform="translate(153.78 388.57) scale(0.970 1.070)" fill="#262626" stroke="#262626">24,917</text>
<text transform="translate(175.28 388.57) scale(0.970 1.070)" fill="#ffffff" stroke="#ffffff">11</text>
<text transform="translate(196.77 388.57) scale(0.970 1.070)" fill="#ffffff" stroke="#ffffff">2</text>
<text transform="translate(218.26 388.57) scale(0.970 1.070)" fill="#ffffff" stroke="#ffffff">0</text>
<text transform="translate(24.84 409.88) scale(0.970 1.070)" fill="#ffffff" stroke="#ffffff">200</text>
<text transform="translate(46.34 409.88) scale(0.970 1.070)" fill="#ffffff" stroke="#ffffff">170</text>
<text transform="translate(67.83 409.88) scale(0.970 1.070)" fill="#ffffff" stroke="#ffffff">23</text>
<text transform="translate(89.31 409.88) scale(0.970 1.070)" fill="#ffffff" stroke="#ffffff">1</text>
<text transform="translate(110.81 409.88) scale(0.970 1.070)" fill="#ffffff" stroke="#ffffff">0</text>
<text transform="translate(132.30 409.88) scale(0.970 1.070)" fill="#ffffff" stroke="#ffffff">8</text>
<text transform="translate(153.78 409.88) scale(0.970 1.070)" fill="#ffffff" stroke="#ffffff">11</text>
<text transform="translate(175.28 409.88) scale(0.970 1.070)" fill="#262626" stroke="#262626">10,592</text>
<text transform="translate(196.77 409.88) scale(0.970 1.070)" fill="#ffffff" stroke="#ffffff">13</text>
<text transform="translate(218.26 409.88) scale(0.970 1.070)" fill="#ffffff" stroke="#ffffff">0</text>
<text transform="translate(24.84 431.19) scale(0.970 1.070)" fill="#ffffff" stroke="#ffffff">5</text>
<text transform="translate(46.34 431.19) scale(0.970 1.070)" fill="#ffffff" stroke="#ffffff">22</text>
<text transform="translate(67.83 431.19) scale(0.970 1.070)" fill="#ffffff" stroke="#ffffff">88</text>
<text transform="translate(89.31 431.19) scale(0.970 1.070)" fill="#ffffff" stroke="#ffffff">0</text>
<text transform="translate(110.81 431.19) scale(0.970 1.070)" fill="#ffffff" stroke="#ffffff">1</text>
<text transform="translate(132.30 431.19) scale(0.970 1.070)" fill="#ffffff" stroke="#ffffff">6</text>
<text transform="translate(153.78 431.19) scale(0.970 1.070)" fill="#ffffff" stroke="#ffffff">2</text>
<text transform="translate(175.28 431.19) scale(0.970 1.070)" fill="#ffffff" stroke="#ffffff">8</text>
<text transform="translate(196.77 431.19) scale(0.970 1.070)" fill="#ffffff" stroke="#ffffff">3,287</text>
<text transform="translate(218.26 431.19) scale(0.970 1.070)" fill="#ffffff" stroke="#ffffff">0</text>
<text transform="translate(24.84 452.50) scale(0.970 1.070)" fill="#ffffff" stroke="#ffffff">0</text>
<text transform="translate(46.34 452.50) scale(0.970 1.070)" fill="#ffffff" stroke="#ffffff">0</text>
<text transform="translate(67.83 452.50) scale(0.970 1.070)" fill="#ffffff" stroke="#ffffff">0</text>
<text transform="translate(89.31 452.50) scale(0.970 1.070)" fill="#ffffff" stroke="#ffffff">0</text>
<text transform="translate(110.81 452.50) scale(0.970 1.070)" fill="#ffffff" stroke="#ffffff">0</text>
<text transform="translate(132.30 452.50) scale(0.970 1.070)" fill="#ffffff" stroke="#ffffff">0</text>
<text transform="translate(153.78 452.50) scale(0.970 1.070)" fill="#ffffff" stroke="#ffffff">0</text>
<text transform="translate(175.28 452.50) scale(0.970 1.070)" fill="#ffffff" stroke="#ffffff">0</text>
<text transform="translate(196.77 452.50) scale(0.970 1.070)" fill="#ffffff" stroke="#ffffff">0</text>
<text transform="translate(218.26 452.50) scale(0.970 1.070)" fill="#ffffff" stroke="#ffffff">485</text>
</g>
<g class="tick" font-size="4.10" text-anchor="middle" fill="#262626" stroke="#262626" stroke-width="0.04">
<text x="24.84" y="467.00">B-ING</text>
<text x="46.34" y="467.00">B-PROD</text>
<text x="67.83" y="467.00">B-QUAN</text>
<text x="89.31" y="467.00">B-STATE</text>
<text x="110.81" y="467.00">B-UNIT</text>
<text x="132.30" y="467.00">I-ING</text>
<text x="153.78" y="467.00">I-PROD</text>
<text x="175.28" y="467.00">I-QUAN</text>
<text x="196.77" y="467.00">I-STATE</text>
<text x="218.26" y="467.00">I-UNIT</text>
<text transform="translate(11.60 259.56) rotate(-90)">B-ING</text>
<text transform="translate(11.60 280.86) rotate(-90)">B-PROD</text>
<text transform="translate(11.60 302.18) rotate(-90)">B-QUAN</text>
<text transform="translate(11.60 323.48) rotate(-90)">B-STATE</text>
<text transform="translate(11.60 344.80) rotate(-90)">B-UNIT</text>
<text transform="translate(11.60 366.10) rotate(-90)">I-ING</text>
<text transform="translate(11.60 387.42) rotate(-90)">I-PROD</text>
<text transform="translate(11.60 408.72) rotate(-90)">I-QUAN</text>
<text transform="translate(11.60 430.04) rotate(-90)">I-STATE</text>
<text transform="translate(11.60 451.34) rotate(-90)">I-UNIT</text>
</g>
<g class="axl" font-size="4.60" text-anchor="middle" fill="#262626" stroke="#262626" stroke-width="0.04">
<text x="121.55" y="472.00">Predicted Labels</text>
<text transform="translate(6.70 355.45) rotate(-90)">True Labels</text>
</g>
<rect x="242.20" y="248.20" width="10.70" height="213.10" fill="url(#cb)"/>
<g class="cbt" font-size="4.10" fill="#262626" stroke="#262626" stroke-width="0.04">
<line x1="252.90" x2="254.60" y1="461.30" y2="461.30" stroke-width="0.4"/>
<text x="254.90" y="463.07">0</text>
<line x1="252.90" x2="254.60" y1="415.51" y2="415.51" stroke-width="0.4"/>
<text x="254.90" y="417.28">10,000</text>
<line x1="252.90" x2="254.60" y1="369.72" y2="369.72" stroke-width="0.4"/>
<text x="254.90" y="371.49">20,000</text>
<line x1="252.90" x2="254.60" y1="323.93" y2="323.93" stroke-width="0.4"/>
<text x="254.90" y="325.70">30,000</text>
<line x1="252.90" x2="254.60" y1="278.14" y2="278.14" stroke-width="0.4"/>
<text x="254.90" y="279.91">40,000</text>
</g>
<text class="cap" x="134.60" y="485.00" font-size="9.70" text-anchor="middle" fill="#000" stroke="#000" stroke-width="0.2">(c). Bi-LSTM</text>
</g>
<g class="panel">
<rect x="293.10" y="248.80" width="214.90" height="213.60" fill="#3f7f93"/>
<rect x="293.10" y="248.80" width="21.49" height="21.36" fill="#c3553a"/>
<rect x="314.59" y="248.80" width="21.49" height="21.36" fill="#438295"/>
<rect x="336.08" y="248.80" width="21.49" height="21.36" fill="#418094"/>
<rect x="422.04" y="248.80" width="21.49" height="21.36" fill="#407f93"/>
<rect x="443.53" y="248.80" width="21.49" height="21.36" fill="#428194"/>
<rect x="293.10" y="270.16" width="21.49" height="21.36" fill="#468397"/>
<rect x="314.59" y="270.16" width="21.49" height="21.36" fill="#cf7f6b"/>
<rect x="336.08" y="270.16" width="21.49" height="21.36" fill="#438195"/>
<rect x="400.55" y="270.16" width="21.49" height="21.36" fill="#418094"/>
<rect x="422.04" y="270.16" width="21.49" height="21.36" fill="#438195"/>
<rect x="443.53" y="270.16" width="21.49" height="21.36" fill="#418194"/>
<rect x="293.10" y="291.52" width="21.49" height="21.36" fill="#428194"/>
<rect x="314.59" y="291.52" width="21.49" height="21.36" fill="#428194"/>
<rect x="336.08" y="291.52" width="21.49" height="21.36" fill="#d07f6b"/>
<rect x="400.55" y="291.52" width="21.49" height="21.36" fill="#408094"/>
<rect x="465.02" y="291.52" width="21.49" height="21.36" fill="#408093"/>
<rect x="357.57" y="312.88" width="21.49" height="21.36" fill="#cd7863"/>
<rect x="379.06" y="334.24" width="21.49" height="21.36" fill="#ddaca0"/>
<rect x="293.10" y="355.60" width="21.49" height="21.36" fill="#407f93"/>
<rect x="314.59" y="355.60" width="21.49" height="21.36" fill="#418094"/>
<rect x="336.08" y="355.60" width="21.49" height="21.36" fill="#408094"/>
<rect x="400.55" y="355.60" width="21.49" height="21.36" fill="#f0eae9"/>
<rect x="422.04" y="355.60" width="21.49" height="21.36" fill="#418094"/>
<rect x="293.10" y="376.96" width="21.49" height="21.36" fill="#407f93"/>
<rect x="314.59" y="376.96" width="21.49" height="21.36" fill="#438295"/>
<rect x="400.55" y="376.96" width="21.49" height="21.36" fill="#408094"/>
<rect x="422.04" y="376.96" width="21.49" height="21.36" fill="#f2f2f2"/>
<rect x="293.10" y="398.32" width="21.49" height="21.36" fill="#408094"/>
<rect x="314.59" y="398.32" width="21.49" height="21.36" fill="#408094"/>
<rect x="443.53" y="398.32" width="21.49" height="21.36" fill="#98b8c2"/>
<rect x="336.08" y="419.68" width="21.49" height="21.36" fill="#407f93"/>
<rect x="465.02" y="419.68" width="21.49" height="21.36" fill="#5a91a2"/>
<rect x="486.51" y="441.04" width="21.49" height="21.36" fill="#438295"/>
<g class="ann" font-size="5.90" text-anchor="middle" stroke-width="0.08">
<text transform="translate(303.85 261.33) scale(0.970 1.070)" fill="#ffffff" stroke="#ffffff">46,698</text>
<text transform="translate(325.34 261.33) scale(0.970 1.070)" fill="#ffffff" stroke="#ffffff">526</text>
<text transform="translate(346.83 261.33) scale(0.970 1.070)" fill="#ffffff" stroke="#ffffff">266</text>
<text transform="translate(368.31 261.33) scale(0.970 1.070)" fill="#ffffff" stroke="#ffffff">0</text>
<text transform="translate(389.81 261.33) scale(0.970 1.070)" fill="#ffffff" stroke="#ffffff">19</text>
<text transform="translate(411.30 261.33) scale(0.970 1.070)" fill="#ffffff" stroke="#ffffff">36</text>
<text transform="translate(432.79 261.33) scale(0.970 1.070)" fill="#ffffff" stroke="#ffffff">62</text>
<text transform="translate(454.27 261.33) scale(0.970 1.070)" fill="#ffffff" stroke="#ffffff">321</text>
<text transform="translate(475.76 261.33) scale(0.970 1.070)" fill="#ffffff" stroke="#ffffff">2</text>
<text transform="translate(497.25 261.33) scale(0.970 1.070)" fill="#ffffff" stroke="#ffffff">0</text>
<text transform="translate(303.85 282.69) scale(0.970 1.070)" fill="#ffffff" stroke="#ffffff">820</text>
<text transform="translate(325.34 282.69) scale(0.970 1.070)" fill="#ffffff" stroke="#ffffff">41,004</text>
<text transform="translate(346.83 282.69) scale(0.970 1.070)" fill="#ffffff" stroke="#ffffff">464</text>
<text transform="translate(368.31 282.69) scale(0.970 1.070)" fill="#ffffff" stroke="#ffffff">19</text>
<text transform="translate(389.81 282.69) scale(0.970 1.070)" fill="#ffffff" stroke="#ffffff">53</text>
<text transform="translate(411.30 282.69) scale(0.970 1.070)" fill="#ffffff" stroke="#ffffff">261</text>
<text transform="translate(432.79 282.69) scale(0.970 1.070)" fill="#ffffff" stroke="#ffffff">454</text>
<text transform="translate(454.27 282.69) scale(0.970 1.070)" fill="#ffffff" stroke="#ffffff">289</text>
<text transform="translate(475.76 282.69) scale(0.970 1.070)" fill="#ffffff" stroke="#ffffff">43</text>
<text transform="translate(497.25 282.69) scale(0.970 1.070)" fill="#ffffff" stroke="#ffffff">0</text>
<text transform="translate(303.85 304.05) scale(0.970 1.070)" fill="#ffffff" stroke="#ffffff">329</text>
<text transform="translate(325.34 304.05) scale(0.970 1.070)" fill="#ffffff" stroke="#ffffff">308</text>
<text transform="translate(346.83 304.05) scale(0.970 1.070)" fill="#ffffff" stroke="#ffffff">40,943</text>
<text transform="translate(368.31 304.05) scale(0.970 1.070)" fill="#ffffff" stroke="#ffffff">1</text>
<text transform="translate(389.81 304.05) scale(0.970 1.070)" fill="#ffffff" stroke="#ffffff">21</text>
<text transform="translate(411.30 304.05) scale(0.970 1.070)" fill="#ffffff" stroke="#ffffff">129</text>
<text transform="translate(432.79 304.05) scale(0.970 1.070)" fill="#ffffff" stroke="#ffffff">26</text>
<text transform="translate(454.27 304.05) scale(0.970 1.070)" fill="#ffffff" stroke="#ffffff">38</text>
<text transform="translate(475.76 304.05) scale(0.970 1.070)" fill="#ffffff" stroke="#ffffff">98</text>
<text transform="translate(497.25 304.05) scale(0.970 1.070)" fill="#ffffff" stroke="#ffffff">0</text>
<text transform="translate(303.85 325.41) scale(0.970 1.070)" fill="#ffffff" stroke="#ffffff">0</text>
<text transform="translate(325.34 325.41) scale(0.970 1.070)" fill="#ffffff" stroke="#ffffff">25</text>
<text transform="translate(346.83 325.41) scale(0.970 1.070)" fill="#ffffff" stroke="#ffffff">6</text>
<text transform="translate(368.31 325.41) scale(0.970 1.070)" fill="#ffffff" stroke="#ffffff">41,911</text>
<text transform="translate(389.81 325.41) scale(0.970 1.070)" fill="#ffffff" stroke="#ffffff">5</text>
<text transform="translate(411.30 325.41) scale(0.970 1.070)" fill="#ffffff" stroke="#ffffff">9</text>
<text transform="translate(432.79 325.41) scale(0.970 1.070)" fill="#ffffff" stroke="#ffffff">1</text>
<text transform="translate(454.27 325.41) scale(0.970 1.070)" fill="#ffffff" stroke="#ffffff">0</text>
<text transform="translate(475.76 325.41) scale(0.970 1.070)" fill="#ffffff" stroke="#ffffff">0</text>
<text transform="translate(497.25 325.41) scale(0.970 1.070)" fill="#ffffff" stroke="#ffffff">0</text>
<text transform="translate(303.85 346.77) scale(0.970 1.070)" fill="#ffffff" stroke="#ffffff">9</text>
<text transform="translate(325.34 346.77) scale(0.970 1.070)" fill="#ffffff" stroke="#ffffff">24</text>
<text transform="translate(346.83 346.77) scale(0.970 1.070)" fill="#ffffff" stroke="#ffffff">27</text>
<text transform="translate(368.31 346.77) scale(0.970 1.070)" fill="#ffffff" stroke="#ffffff">0</text>
<text transform="translate(389.81 346.77) scale(0.970 1.070)" fill="#262626" stroke="#262626">34,785</text>
<text transform="translate(411.30 346.77) scale(0.970 1.070)" fill="#ffffff" stroke="#ffffff">4</text>
<text transform="translate(432.79 346.77) scale(0.970 1.070)" fill="#ffffff" stroke="#ffffff">15</text>
<text transform="translate(454.27 346.77) scale(0.970 1.070)" fill="#ffffff" stroke="#ffffff">3</text>
<text transform="translate(475.76 346.77) scale(0.970 1.070)" fill="#ffffff" stroke="#ffffff">1</text>
<text transform="translate(497.25 346.77) scale(0.970 1.070)" fill="#ffffff" stroke="#ffffff">0</text>
<text transform="translate(303.85 368.13) scale(0.970 1.070)" fill="#ffffff" stroke="#ffffff">72</text>
<text transform="translate(325.34 368.13) scale(0.970 1.070)" fill="#ffffff" stroke="#ffffff">237</text>
<text transform="translate(346.83 368.13) scale(0.970 1.070)" fill="#ffffff" stroke="#ffffff">139</text>
<text transform="translate(368.31 368.13) scale(0.970 1.070)" fill="#ffffff" stroke="#ffffff">9</text>
<text transform="translate(389.81 368.13) scale(0.970 1.070)" fill="#ffffff" stroke="#ffffff">10</text>
<text transform="translate(411.30 368.13) scale(0.970 1.070)" fill="#262626" stroke="#262626">26,271</text>
<text transform="translate(432.79 368.13) scale(0.970 1.070)" fill="#ffffff" stroke="#ffffff">207</text>
<text transform="translate(454.27 368.13) scale(0.970 1.070)" fill="#ffffff" stroke="#ffffff">16</text>
<text transform="translate(475.76 368.13) scale(0.970 1.070)" fill="#ffffff" stroke="#ffffff">3</text>
<text transform="translate(497.25 368.13) scale(0.970 1.070)" fill="#ffffff" stroke="#ffffff">0</text>
<text transform="translate(303.85 389.49) scale(0.970 1.070)" fill="#ffffff" stroke="#ffffff">69</text>
<text transform="translate(325.34 389.49) scale(0.970 1.070)" fill="#ffffff" stroke="#ffffff">498</text>
<text transform="translate(346.83 389.49) scale(0.970 1.070)" fill="#ffffff" stroke="#ffffff">24</text>
<text transform="translate(368.31 389.49) scale(0.970 1.070)" fill="#ffffff" stroke="#ffffff">5</text>
<text transform="translate(389.81 389.49) scale(0.970 1.070)" fill="#ffffff" stroke="#ffffff">9</text>
<text transform="translate(411.30 389.49) scale(0.970 1.070)" fill="#ffffff" stroke="#ffffff">134</text>
<text transform="translate(432.79 389.49) scale(0.970 1.070)" fill="#262626" stroke="#262626">25,185</text>
<text transform="translate(454.27 389.49) scale(0.970 1.070)" fill="#ffffff" stroke="#ffffff">17</text>
<text transform="translate(475.76 389.49) scale(0.970 1.070)" fill="#ffffff" stroke="#ffffff">0</text>
<text transform="translate(497.25 389.49) scale(0.970 1.070)" fill="#ffffff" stroke="#ffffff">0</text>
<text transform="translate(303.85 410.85) scale(0.970 1.070)" fill="#ffffff" stroke="#ffffff">145</text>
<text transform="translate(325.34 410.85) scale(0.970 1.070)" fill="#ffffff" stroke="#ffffff">146</text>
<text transform="translate(346.83 410.85) scale(0.970 1.070)" fill="#ffffff" stroke="#ffffff">14</text>
<text transform="translate(368.31 410.85) scale(0.970 1.070)" fill="#ffffff" stroke="#ffffff">1</text>
<text transform="translate(389.81 410.85) scale(0.970 1.070)" fill="#ffffff" stroke="#ffffff">1</text>
<text transform="translate(411.30 410.85) scale(0.970 1.070)" fill="#ffffff" stroke="#ffffff">3</text>
<text transform="translate(432.79 410.85) scale(0.970 1.070)" fill="#ffffff" stroke="#ffffff">7</text>
<text transform="translate(454.27 410.85) scale(0.970 1.070)" fill="#262626" stroke="#262626">10,698</text>
<text transform="translate(475.76 410.85) scale(0.970 1.070)" fill="#ffffff" stroke="#ffffff">3</text>
<text transform="translate(497.25 410.85) scale(0.970 1.070)" fill="#ffffff" stroke="#ffffff">0</text>
<text transform="translate(303.85 432.21) scale(0.970 1.070)" fill="#ffffff" stroke="#ffffff">4</text>
<text transform="translate(325.34 432.21) scale(0.970 1.070)" fill="#ffffff" stroke="#ffffff">25</text>
<text transform="translate(346.83 432.21) scale(0.970 1.070)" fill="#ffffff" stroke="#ffffff">79</text>
<text transform="translate(368.31 432.21) scale(0.970 1.070)" fill="#ffffff" stroke="#ffffff">0</text>
<text transform="translate(389.81 432.21) scale(0.970 1.070)" fill="#ffffff" stroke="#ffffff">0</text>
<text transform="translate(411.30 432.21) scale(0.970 1.070)" fill="#ffffff" stroke="#ffffff">2</text>
<text transform="translate(432.79 432.21) scale(0.970 1.070)" fill="#ffffff" stroke="#ffffff">1</text>
<text transform="translate(454.27 432.21) scale(0.970 1.070)" fill="#ffffff" stroke="#ffffff">7</text>
<text transform="translate(475.76 432.21) scale(0.970 1.070)" fill="#ffffff" stroke="#ffffff">3,301</text>
<text transform="translate(497.25 432.21) scale(0.970 1.070)" fill="#ffffff" stroke="#ffffff">0</text>
<text transform="translate(303.85 453.57) scale(0.970 1.070)" fill="#ffffff" stroke="#ffffff">0</text>
<text transform="translate(325.34 453.57) scale(0.970 1.070)" fill="#ffffff" stroke="#ffffff">0</text>
<text transform="translate(346.83 453.57) scale(0.970 1.070)" fill="#ffffff" stroke="#ffffff">0</text>
<text transform="translate(368.31 453.57) scale(0.970 1.070)" fill="#ffffff" stroke="#ffffff">0</text>
<text transform="translate(389.81 453.57) scale(0.970 1.070)" fill="#ffffff" stroke="#ffffff">0</text>
<text transform="translate(411.30 453.57) scale(0.970 1.070)" fill="#ffffff" stroke="#ffffff">0</text>
<text transform="translate(432.79 453.57) scale(0.970 1.070)" fill="#ffffff" stroke="#ffffff">0</text>
<text transform="translate(454.27 453.57) scale(0.970 1.070)" fill="#ffffff" stroke="#ffffff">0</text>
<text transform="translate(475.76 453.57) scale(0.970 1.070)" fill="#ffffff" stroke="#ffffff">0</text>
<text transform="translate(497.25 453.57) scale(0.970 1.070)" fill="#ffffff" stroke="#ffffff">485</text>
</g>
<g class="tick" font-size="4.10" text-anchor="middle" fill="#262626" stroke="#262626" stroke-width="0.04">
<text x="303.85" y="467.00">B-ING</text>
<text x="325.34" y="467.00">B-PROD</text>
<text x="346.83" y="467.00">B-QUAN</text>
<text x="368.31" y="467.00">B-STATE</text>
<text x="389.81" y="467.00">B-UNIT</text>
<text x="411.30" y="467.00">I-ING</text>
<text x="432.79" y="467.00">I-PROD</text>
<text x="454.27" y="467.00">I-QUAN</text>
<text x="475.76" y="467.00">I-STATE</text>
<text x="497.25" y="467.00">I-UNIT</text>
<text transform="translate(290.60 260.18) rotate(-90)">B-ING</text>
<text transform="translate(290.60 281.54) rotate(-90)">B-PROD</text>
<text transform="translate(290.60 302.90) rotate(-90)">B-QUAN</text>
<text transform="translate(290.60 324.26) rotate(-90)">B-STATE</text>
<text transform="translate(290.60 345.62) rotate(-90)">B-UNIT</text>
<text transform="translate(290.60 366.98) rotate(-90)">I-ING</text>
<text transform="translate(290.60 388.34) rotate(-90)">I-PROD</text>
<text transform="translate(290.60 409.70) rotate(-90)">I-QUAN</text>
<text transform="translate(290.60 431.06) rotate(-90)">I-STATE</text>
<text transform="translate(290.60 452.42) rotate(-90)">I-UNIT</text>
</g>
<g class="axl" font-size="4.60" text-anchor="middle" fill="#262626" stroke="#262626" stroke-width="0.04">
<text x="400.55" y="472.00">Predicted Labels</text>
<text transform="translate(285.70 356.30) rotate(-90)">True Labels</text>
</g>
<rect x="521.70" y="248.80" width="10.50" height="213.60" fill="url(#cb)"/>
<g class="cbt" font-size="4.10" fill="#262626" stroke="#262626" stroke-width="0.04">
<line x1="532.20" x2="533.90" y1="462.40" y2="462.40" stroke-width="0.4"/>
<text x="534.20" y="464.17">0</text>
<line x1="532.20" x2="533.90" y1="416.66" y2="416.66" stroke-width="0.4"/>
<text x="534.20" y="418.43">10,000</text>
<line x1="532.20" x2="533.90" y1="370.92" y2="370.92" stroke-width="0.4"/>
<text x="534.20" y="372.69">20,000</text>
<line x1="532.20" x2="533.90" y1="325.18" y2="325.18" stroke-width="0.4"/>
<text x="534.20" y="326.95">30,000</text>
<line x1="532.20" x2="533.90" y1="279.44" y2="279.44" stroke-width="0.4"/>
<text x="534.20" y="281.20">40,000</text>
</g>
<text class="cap" x="415.35" y="485.00" font-size="9.70" text-anchor="middle" fill="#000" stroke="#000" stroke-width="0.2">(d). RNE</text>
</g>
</svg>
</body></html>
